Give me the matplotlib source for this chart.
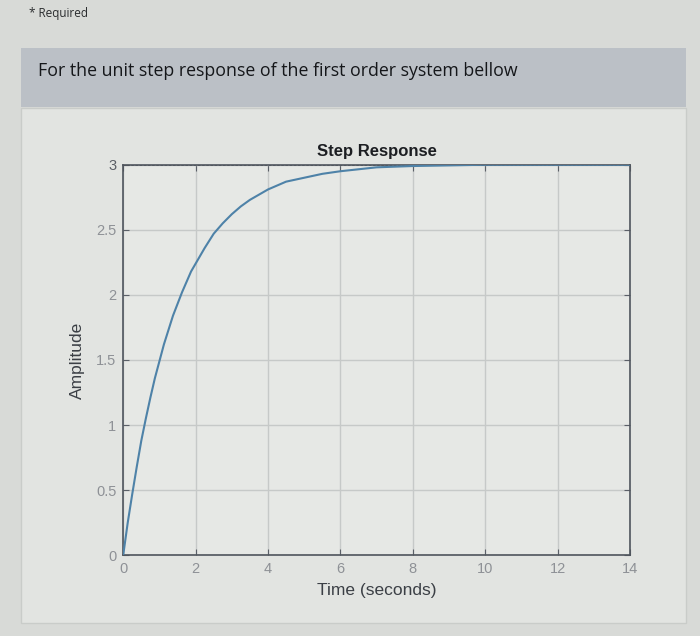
import matplotlib
matplotlib.use("Agg")
import matplotlib.pyplot as plt
from matplotlib.patches import Rectangle

# valores (resposta ao degrau)
tempo = [0, 0.125, 0.25, 0.375, 0.5, 0.625, 0.75, 0.875, 1.0, 1.125, 1.25, 1.375,
         1.5, 1.625, 1.75, 1.875, 2.0, 2.25, 2.5, 2.75, 3.0, 3.25, 3.5, 3.75,
         4.0, 4.25, 4.5, 5.0, 5.5, 6.0, 7.0, 8.0, 9.0, 10.0, 12.0, 14.0]
amplitude = [0, 0.25, 0.47, 0.68, 0.88, 1.05, 1.21, 1.36, 1.49, 1.62, 1.73, 1.84,
             1.93, 2.02, 2.10, 2.18, 2.24, 2.36, 2.47, 2.55, 2.62, 2.68, 2.73, 2.77,
             2.81, 2.84, 2.87, 2.90, 2.93, 2.95, 2.98, 2.99, 2.995, 3.0, 3.0, 3.0]
valor_final = 3.0
x_ticks = [0, 2, 4, 6, 8, 10, 12, 14]
y_ticks = [0, 0.5, 1, 1.5, 2, 2.5, 3]
y_labels = ["0", "0.5", "1", "1.5", "2", "2.5", "3"]

figura = plt.figure(figsize=(7, 6.36), dpi=100)
figura.patch.set_facecolor("#d8dad7")

# painel claro e caixa cinza do formulario
figura.add_artist(Rectangle((0.03, 0.02), 0.95, 0.81, transform=figura.transFigure,
                            facecolor="#e2e4e1", edgecolor="#c9ccc9", lw=1, zorder=0))
figura.add_artist(Rectangle((0.03, 0.832), 0.95, 0.093, transform=figura.transFigure,
                            facecolor="#bbc0c6", edgecolor="none", zorder=0))
figura.text(0.042, 0.978, "* Required", fontsize=8.5, family="Open Sans",
            color="#2a2c2e", va="center")
figura.text(0.055, 0.889, "For the unit step response of the first order system bellow",
            fontsize=12.8, family="Open Sans", color="#15171a", va="center")

ax = figura.add_axes([0.176, 0.127, 0.724, 0.614])
ax.set_facecolor("#e6e8e5")
ax.plot(tempo, amplitude, color="#4e82a8", lw=1.5, zorder=3)
ax.axhline(valor_final, color="#4a5058", ls=(0, (1.5, 1)), lw=1.2, zorder=2)

ax.set_xlim(0, 14)
ax.set_ylim(0, 3.0)
ax.set_xticks(x_ticks)
ax.set_yticks(y_ticks)
ax.set_yticklabels(y_labels)
ax.grid(True, color="#c6c9c8", lw=1)
ax.tick_params(direction="in", top=True, right=True, length=4, pad=5,
               colors="#5b6068", labelcolor="#8e9196", labelsize=10.5)
for lab in ax.get_xticklabels() + ax.get_yticklabels():
    lab.set_family("Liberation Sans")
ax.get_yticklabels()[-1].set_color("#5b5f66")
for lado in ax.spines.values():
    lado.set_color("#4f555d")
    lado.set_linewidth(1.2)

ax.set_title("Step Response", fontsize=12, fontweight="bold", family="Liberation Sans",
             color="#1c1e22", pad=6)
ax.set_xlabel("Time (seconds)", fontsize=12.5, family="Liberation Sans", color="#3b3f45",
              labelpad=5)
ax.set_ylabel("Amplitude", fontsize=12.5, family="Liberation Sans", color="#3b3f45",
              labelpad=8)

figura.savefig("out.png", dpi=100, facecolor=figura.get_facecolor())
